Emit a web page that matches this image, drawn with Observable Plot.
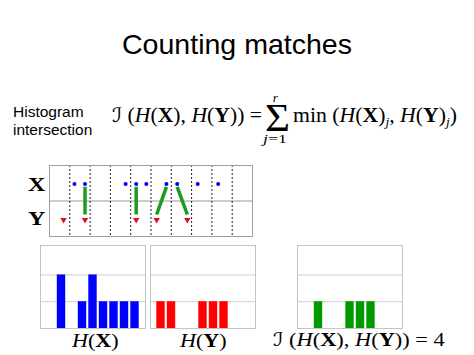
<!DOCTYPE html>
<html><head><meta charset="utf-8">
<script src="https://cdn.jsdelivr.net/npm/d3@7"></script>
<script src="https://cdn.jsdelivr.net/npm/@observablehq/plot@0.6"></script>
<style>
body{margin:0;background:#fff;}
#slide{position:relative;width:474px;height:355px;overflow:hidden;background:#fff;color:#000;}
.abs{position:absolute;white-space:nowrap;line-height:1;}
.sans{font-family:"Liberation Sans",Arial,sans-serif;}
.m{font-family:"Liberation Serif","DejaVu Serif",serif;}
.cal{font-family:"DejaVu Serif","DejaVu Sans",serif;font-style:normal;}
.sub{font-size:0.62em;position:relative;top:0.3em;font-style:italic;}
.plot{position:absolute;}
</style>
</head><body>
<div id="slide">
  <div class="abs sans" style="left:121.7px;top:31px;font-size:28px" data-w="230">Counting matches</div>
  <div class="abs sans" style="left:13px;top:103px;font-size:15.5px;line-height:17.7px">Histogram<br>intersection</div>
  <div class="abs m" style="left:111.7px;top:105px;font-size:20px" data-w="150"><span class="cal">ℐ</span> (<i>H</i>(<b>X</b>), <i>H</i>(<b>Y</b>)) =</div>
  <div class="abs m" style="left:265px;top:105px;font-size:40px;line-height:0.65" data-w="25">Σ</div>
  <div class="abs m" style="left:272.7px;top:93px;font-size:13px;line-height:0.7"><i>r</i></div>
  <div class="abs m" style="left:263.3px;top:134.3px;font-size:13px;line-height:0.8" data-w="24"><i>j</i>=1</div>
  <div class="abs m" style="left:292.7px;top:105px;font-size:20px" data-w="164">min (<i>H</i>(<b>X</b>)<span class="sub">j</span>, <i>H</i>(<b>Y</b>)<span class="sub">j</span>)</div>
  <div class="abs m" style="left:71.7px;top:331px;font-size:19px" data-w="46.7"><i>H</i>(<b>X</b>)</div>
  <div class="abs m" style="left:180px;top:331px;font-size:19px" data-w="46.7"><i>H</i>(<b>Y</b>)</div>
  <div class="abs m" style="left:273.3px;top:330px;font-size:19px" data-w="171.7"><span class="cal">ℐ</span> (<i>H</i>(<b>X</b>), <i>H</i>(<b>Y</b>)) = 4</div>
</div>
<script>
// ---- data ----
const xPoints = [1.23, 1.75, 3.75, 4.27, 4.77, 5.76, 6.29, 7.30, 8.31];   // positions of X samples
const yPoints = [0.69, 1.75, 4.27, 5.28, 6.79];                           // positions of Y samples
const matchPairs = [[1, 1], [3, 2], [5, 3], [6, 4]];                      // [index in xPoints, index in yPoints]
const binEdges = [1, 2, 3, 4, 5, 6, 7, 8, 9];
const histX = [0, 2, 0, 1, 2, 1, 1, 1, 1, 0];
const histY = [1, 1, 0, 0, 1, 1, 1, 0, 0, 0];
const histI = [0, 1, 0, 0, 1, 1, 1, 0, 0, 0];
const rowLabels = ["X", "Y"];
const gridTicks = [1, 2];

const slide = document.getElementById("slide");

// row labels
const rowTops = [176, 210];
rowLabels.forEach((t, i) => {
  const d = document.createElement("div");
  d.className = "abs m";
  d.style.cssText = `left:28.3px;top:${rowTops[i]}px;font-size:18px;font-weight:bold`;
  d.dataset.w = "17.4";
  d.textContent = t;
  slide.appendChild(d);
});

// top panel
const topPlot = Plot.plot({
  width: 205, height: 73, margin: 1,
  x: {domain: [0, 10], axis: null},
  y: {domain: [0, 1], axis: null},
  marks: [
    Plot.ruleY([0.5], {stroke: "#999"}),
    Plot.ruleX(binEdges, {stroke: "#222", strokeDasharray: "2,2"}),
    Plot.frame({stroke: "#a0a0a0"}),
    Plot.link(matchPairs, {x1: d => xPoints[d[0]], x2: d => yPoints[d[1]], y1: 0.70, y2: 0.31, stroke: "#1e9a1e", strokeWidth: 3.5}),
    Plot.dot(xPoints, {x: d => d, y: 0.74, r: 2, fill: "#0000ee"}),
    Plot.dot(yPoints, {x: d => d, y: 0.235, symbol: "triangle", r: 2.4, fill: "#e0101e", rotate: 180})
  ]
});
topPlot.classList.add("plot");
topPlot.style.left = "48px"; topPlot.style.top = "164px";
slide.appendChild(topPlot);

function hist(values, color, left) {
  const data = values.map((v, i) => ({bin: i + 1, v})).filter(d => d.v > 0);
  const p = Plot.plot({
    width: 107, height: 85, margin: 1,
    x: {domain: [0, 10], axis: null},
    y: {domain: [0, 3.1], axis: null},
    marks: [
      Plot.ruleY(gridTicks, {stroke: "#cfcfcf"}),
      Plot.rectY(data, {x1: d => d.bin - 0.4, x2: d => d.bin + 0.4, y: "v", fill: color}),
      Plot.frame({stroke: "#c4c4c4"})
    ]
  });
  p.classList.add("plot");
  p.style.left = left + "px"; p.style.top = "243.7px";
  slide.appendChild(p);
}
hist(histX, "#0000ff", 39);
hist(histY, "#ff0000", 149);
hist(histI, "#009a00", 295.7);

// fit text widths
document.querySelectorAll("[data-w]").forEach(el => {
  const w = el.getBoundingClientRect().width;
  const t = +el.dataset.w;
  if (w > 0) { el.style.transformOrigin = "0 0"; el.style.transform = `scaleX(${t / w})`; }
});
</script>
</body></html>
